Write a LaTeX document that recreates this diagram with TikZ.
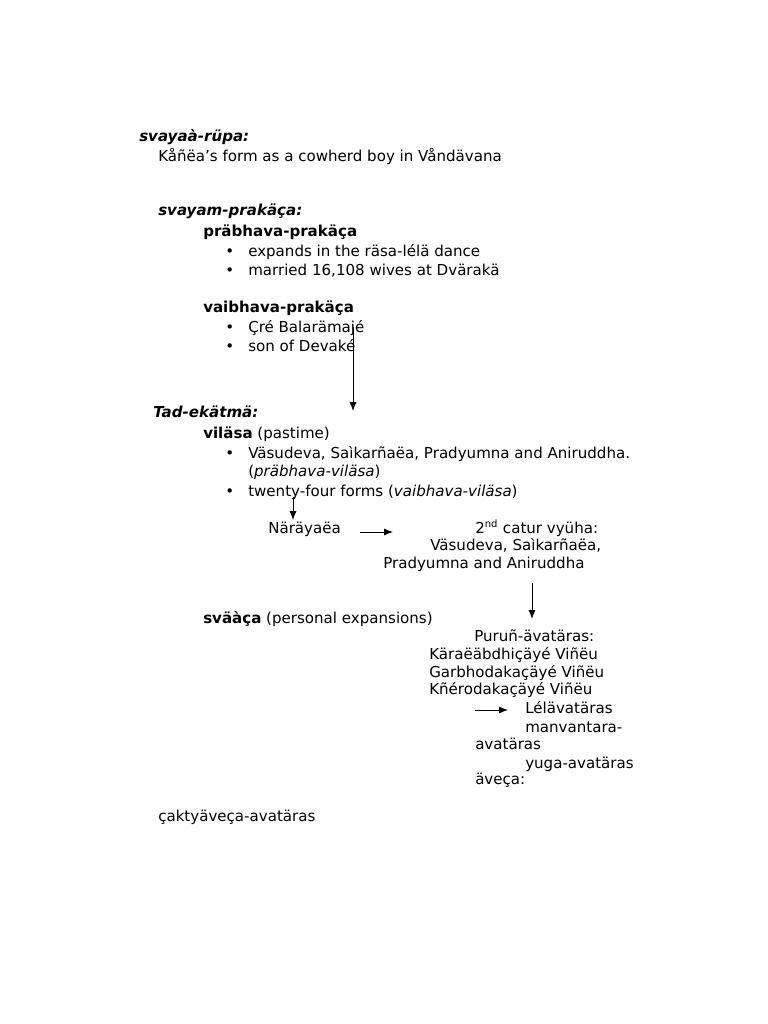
\documentclass[tikz,border=0pt]{standalone}
\usepackage{fontspec}
\setmainfont{DejaVu Sans}
\usetikzlibrary{arrows.meta}

\begin{document}
\begin{tikzpicture}[x=0.796875pt,y=-0.796875pt,
                txt/.style = {anchor=base west, inner sep=0pt, font=\fontsize{12}{14}\selectfont},
                head/.style = {txt, font=\fontsize{12}{14}\selectfont\bfseries\itshape},
                sub/.style = {txt, font=\fontsize{12}{14}\selectfont\bfseries},
                arr/.style = {-{Latex[length=7pt,width=5.5pt]}, line width=0.75pt}]
                \useasboundingbox (0,0) rectangle (768,1024);
                % svayam-rupa
                \node[head] (rupa) at (139,141) {svayaà-rüpa:};
                \node[txt] (krsna) at (158,161) {Kåñëa’s form as a cowherd boy in Våndävana};
                % svayam-prakasa
                \node[head] (prakasa) at (158,215) {svayam-prakäça:};
                \node[sub] (prabhava) at (203,236) {präbhava-prakäça};
                \node[txt] (b1) at (225,256) {•};
                \node[txt] (rasa) at (248,256) {expands in the räsa-lélä dance};
                \node[txt] (b2) at (225,275) {•};
                \node[txt] (wives) at (248,275) {married 16,108 wives at Dvärakä};
                \node[sub] (vaibhava) at (203,312) {vaibhava-prakäça};
                \node[txt] (b3) at (225,332) {•};
                \node[txt] (balarama) at (248,332) {Çré Balarämajé};
                \node[txt] (b4) at (225,351) {•};
                \node[txt] (devaki) at (248,351) {son of Devaké};
                % tad-ekatma
                \node[head] (tad) at (153,417) {Tad-ekätmä:};
                \node[txt] (vilasa) at (203,438) {\textbf{viläsa} (pastime)};
                \node[txt] (b5) at (225,458) {•};
                \node[txt] (catur) at (248,458) {Väsudeva, Saìkarñaëa, Pradyumna and Aniruddha.};
                \node[txt] (pvilasa) at (248,476) {(\textit{präbhava-viläsa})};
                \node[txt] (b6) at (225,496) {•};
                \node[txt] (forms) at (248,496) {twenty-four forms (\textit{vaibhava-viläsa})};
                \node[txt] (narayana) at (268,533) {Näräyaëa};
                \node[txt] (vyuha) at (475,533) {2\textsuperscript{nd} catur vyüha:};
                \node[txt] (vyuha2) at (430,550) {Väsudeva, Saìkarñaëa,};
                \node[txt] (vyuha3) at (383,568) {Pradyumna and Aniruddha};
                % svamsa
                \node[txt] (svamsa) at (203,623) {\textbf{sväàça} (personal expansions)};
                \node[txt] (purusa) at (474,641) {Puruñ-ävatäras:};
                \node[txt] (karana) at (429,659) {Käraëäbdhiçäyé Viñëu};
                \node[txt] (garbha) at (429,677) {Garbhodakaçäyé Viñëu};
                \node[txt] (ksira) at (429,694) {Kñérodakaçäyé Viñëu};
                \node[txt] (lila) at (525,713) {Lélävatäras};
                \node[txt] (manv) at (525,732) {manvantara-};
                \node[txt] (manv2) at (475,749) {avatäras};
                \node[txt] (yuga) at (525,768) {yuga-avatäras};
                \node[txt] (avesa) at (475,784) {äveça:};
                \node[txt] (sakty) at (158,821) {çaktyäveça-avatäras};
                % arrows
                \coordinate (a1) at (353,327);
                \coordinate (a1e) at (353,411);
                \coordinate (a2) at (293,497);
                \coordinate (a2e) at (293,520);
                \coordinate (a3) at (360,532);
                \coordinate (a3e) at (393,532);
                \coordinate (a4) at (532,583);
                \coordinate (a4e) at (532,619);
                \coordinate (a5) at (475,710);
                \coordinate (a5e) at (508,710);
                \path[arr]
                    (a1) edge (a1e)
                    (a2) edge (a2e)
                    (a3) edge (a3e)
                    (a4) edge (a4e)
                    (a5) edge (a5e);
            \end{tikzpicture}
\end{document}
